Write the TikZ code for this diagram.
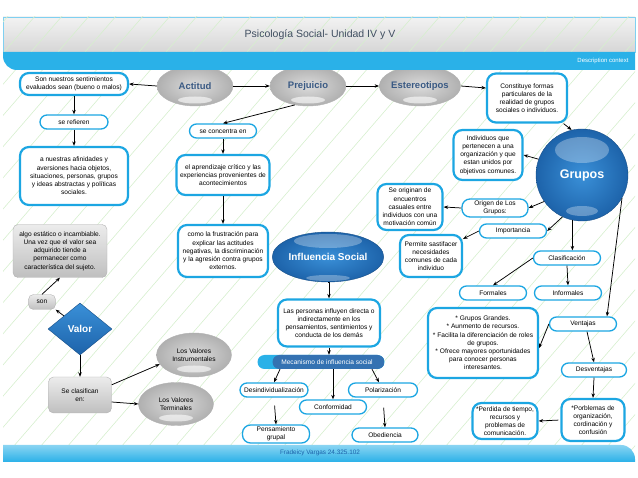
\documentclass[tikz,border=0pt]{standalone}
\usepackage{fontspec}
\setmainfont{Liberation Sans}
\usetikzlibrary{arrows.meta, positioning, calc, shapes.geometric}
\definecolor{mapcyan}{HTML}{1CA6E2}
\definecolor{mapblue}{HTML}{1D63AA}
\definecolor{mapbluehi}{HTML}{3A90D8}
\definecolor{bandblue}{HTML}{2AB1E8}
\definecolor{bgline}{HTML}{D6EFCE}
\definecolor{titlegray}{HTML}{3F4E60}
\definecolor{ovaltext}{HTML}{3A5A84}
\newcommand{\boxfont}{\fontsize{6.6}{8.2}\selectfont}

\begin{document}
\begin{tikzpicture}[x=1pt, y=-1pt, line join=round,
    cbox/.style={draw=mapcyan, line width=2.2pt, fill=white, rounded corners=9pt,
                 align=center, font=\boxfont, inner sep=2pt},
    pill/.style={draw=mapcyan, line width=1.3pt, fill=white, rounded corners=7pt,
                 align=center, font=\boxfont, minimum width=67pt, minimum height=14pt, inner sep=1pt},
    gbox/.style={draw=gray!60, top color=gray!15, bottom color=gray!50, rounded corners=5pt,
                 align=center, font=\boxfont, inner sep=1pt},
    goval/.style={ellipse, draw=gray!60, inner color=gray!28, outer color=gray!62,
                  align=center, inner sep=0pt},
    boval/.style={draw=mapblue!80!black, line width=0.4pt, inner color=mapbluehi, outer color=mapblue,
                  text=white, align=center, inner sep=0pt},
    arr/.style={-{Stealth[length=4.5pt, width=3.5pt]}, line width=0.75pt}]
  \useasboundingbox (0,0) rectangle (638,478);

  % header and hatching
  \shade[top color=gray!10, bottom color=gray!32] (3,17) rectangle (635,52);
  \draw[bandblue!60, line width=0.6pt] (3,17) rectangle (635,52);
  \begin{scope}
    \clip (3,17) rectangle (635,462);
    \foreach \i in {-15,...,24} { \draw[bgline, line width=0.6pt] (\i*27,462) -- ++(400,-462); }
  \end{scope}

  % Actitud / Prejuicio / Estereotipos
  \node[goval, minimum width=76pt, minimum height=40pt, text=ovaltext,
        font=\bfseries\fontsize{9.5}{11}\selectfont] (act) at (195,86) {Actitud};
  \node[goval, minimum width=76pt, minimum height=40pt, text=ovaltext,
        font=\bfseries\fontsize{9.5}{11}\selectfont] (prej) at (308,86) {Prejuicio};
  \node[goval, minimum width=80pt, minimum height=40pt, text=ovaltext,
        font=\bfseries\fontsize{9.5}{11}\selectfont] (este) at (420,86) {Estereotipos};

  \node[cbox, minimum width=108pt, minimum height=22pt] (sent) at (74,84)
      {Son nuestros sentimientos\\evaluados sean (bueno o malos)};
  \node[pill, minimum width=68pt] (refi) at (74,122) {se refieren};
  \node[cbox, minimum width=108pt, minimum height=58pt] (afin) at (74,176)
      {a nuestras afinidades y\\aversiones hacia objetos,\\situaciones, personas, grupos\\y ideas abstractas y políticas\\sociales.};

  \node[pill] (conc) at (223,131) {se concentra en};
  \node[cbox, minimum width=93pt, minimum height=40pt] (apre) at (223,175)
      {el aprendizaje crítico y las\\experiencias provenientes de\\acontecimientos};
  \node[cbox, minimum width=90pt, minimum height=52pt] (frus) at (223,251)
      {como la frustración para\\explicar las actitudes\\negativas, la discriminación\\y la agresión contra grupos\\externos.};

  % Influencia social
  \node[boval, ellipse, minimum width=107pt, minimum height=50pt,
        font=\bfseries\fontsize{10}{12}\selectfont] (infl) at (328,257) {Influencia Social};
  \node[cbox, minimum width=102pt, minimum height=47pt] (pers) at (329,323)
      {Las personas influyen directa o\\indirectamente en los\\pensamientos, sentimientos y\\conducta de los demás};
  \node[fill=bandblue, rounded corners=7pt, minimum width=127pt, minimum height=14pt, inner sep=1pt,
        text=white, font=\boxfont,
        path picture={\fill[mapblue!90, rounded corners=7pt]
          ([xshift=15pt]path picture bounding box.south west) rectangle (path picture bounding box.north east);}]
      (mec) at (321,362) {\hspace*{12pt}Mecanismo de influencia social};
  \node[pill, minimum width=68pt] (desi) at (274,390) {Desindividualización};
  \node[pill] (conf) at (333,407) {Conformidad};
  \node[pill, minimum width=69pt] (pola) at (383,390) {Polarización};
  \node[pill, minimum height=18pt, rounded corners=8pt] (pens) at (276,434) {Pensamiento\\grupal};
  \node[pill, minimum width=66pt] (obed) at (385,435) {Obediencia};

  % Grupos
  \node[cbox, minimum width=80pt, minimum height=49pt] (cons) at (527,98)
      {Constituye formas\\particulares de la\\realidad de grupos\\sociales o individuos.};
  \node[boval, circle, minimum size=92pt, font=\bfseries\fontsize{12.5}{14}\selectfont] (grup) at (582,175) {Grupos};
  \node[cbox, minimum width=69pt, minimum height=50pt] (indi) at (488,155)
      {Individuos que\\pertenecen a una\\organización y que\\estan unidos por\\objetivos comunes.};
  \node[pill, minimum width=66pt, minimum height=18pt, rounded corners=8pt] (orig) at (495,208) {Origen de Los\\Grupos:};
  \node[cbox, minimum width=65pt, minimum height=46pt] (orit) at (410,207)
      {Se originan de\\encuentros\\casuales entre\\individuos con una\\motivación común};
  \node[pill] (impo) at (513,231) {Importancia};
  \node[cbox, minimum width=62pt, minimum height=42pt] (perm) at (431,256)
      {Permite sastifacer\\necesidades\\comunes de cada\\individuo};
  \node[pill] (clas) at (567,258) {Clasificación};
  \node[pill] (form) at (493,293) {Formales};
  \node[pill] (info) at (568,293) {Informales};
  \node[pill] (vent) at (583,324) {Ventajas};
  \node[cbox, minimum width=110pt, minimum height=70pt] (list) at (483,343)
      {* Grupos Grandes.\\* Aunmento de recursos.\\* Facilita la diferenciación de roles\\de grupos.\\* Ofrece mayores oportunidades\\para conocer personas\\interesantes.};
  \node[pill, minimum width=65pt] (desv) at (594,370) {Desventajas};
  \node[cbox, minimum width=63pt, minimum height=42pt] (porb) at (593,420)
      {*Porblemas de\\organización,\\cordinación y\\confusión};
  \node[cbox, minimum width=65pt, minimum height=36pt] (perd) at (505,421)
      {*Perdida de tiempo,\\recursos y\\problemas de\\comunicación.};

  % Valor
  \node[diamond, minimum width=64pt, minimum height=52pt, inner sep=0pt,
        top color=mapbluehi, bottom color=mapblue, draw=mapblue!80!black, line width=0.4pt,
        text=white, font=\bfseries\fontsize{10}{12}\selectfont] (valo) at (80,329) {Valor};
  \node[gbox, minimum width=27pt, minimum height=15pt] (son) at (42,302) {son};
  \node[gbox, minimum width=94pt, minimum height=53pt] (algo) at (60,251)
      {algo estático o incambiable.\\Una vez que el valor sea\\adquirido tiende a\\permanecer como\\característica del sujeto.};
  \node[gbox, minimum width=63pt, minimum height=36pt] (clsf) at (80,395) {Se clasifican\\en:};
  \node[goval, minimum width=75pt, minimum height=44pt, font=\boxfont] (inst) at (194,355) {Los Valores\\Instrumentales};
  \node[goval, minimum width=75pt, minimum height=43pt, font=\boxfont] (term) at (176,404) {Los Valores\\Terminales};

  % gloss
  \foreach \n in {act, prej, este, inst, term} {
    \fill[white, opacity=0.6] ($(\n.center)+(0,14)$) ellipse (17pt and 3.5pt);
  }
  \fill[white, opacity=0.3] ($(grup.center)+(0,-25)$) ellipse (27pt and 13pt);
  \fill[white, opacity=0.3] ($(grup.center)+(0,36)$) ellipse (16pt and 5pt);
  \fill[white, opacity=0.3] ($(infl.center)+(0,-16)$) ellipse (34pt and 7pt);
  \fill[white, opacity=0.3] ($(infl.center)+(0,21)$) ellipse (22pt and 3pt);

  % connectors
  \draw[arr] (act.west) -- (sent.east);
  \draw[arr] (act.east) -- (prej.west);
  \draw[arr] (prej.east) -- (este.west);
  \draw[arr] (este.east) -- ([yshift=-2pt]este.east -| cons.west);
  \draw[arr] (sent.south) -- (refi.north);
  \draw[arr] (refi.south) -- (afin.north);
  \draw[arr] (prej.235) -- (conc.north);
  \draw[arr] (conc.south) -- (apre.north);
  \draw[arr] (apre.south) -- (frus.north);
  \draw[arr] (infl.south) -- (pers.south |- infl.south) -- (pers.north);
  \draw[arr] (pers.south) -- (pers.south |- mec.north);
  \draw[arr] ([xshift=-41pt]mec.south) -- (desi.north);
  \draw[arr] (mec.south -| conf.north) -- (conf.north);
  \draw[arr] ([xshift=51pt]mec.south) -- ([xshift=-4pt]pola.north);
  \draw[arr, shorten <=8pt] (desi.south) -- (pens.north);
  \draw[arr, shorten <=10pt] (pola.south) -- (obed.north);
  \draw[arr] (cons.-35) -- (grup.103);
  \draw[arr] (grup.160) -- (indi.east);
  \draw[arr] (grup.215) -- (orig.east);
  \draw[arr] (orig.west) -- (orit.east);
  \draw[arr] (grup.245) -- (impo.east);
  \draw[arr] (impo.west) -- ([yshift=-5pt]perm.north east);
  \draw[arr] (grup.258) -- (grup.258 |- clas.north);
  \draw[arr] (clas.west) -- (form.north);
  \draw[arr] (clas.south) -- (info.north);
  \draw[arr] (grup.330) -- ([xshift=24pt]vent.north);
  \draw[arr] (vent.west) -- ([yshift=-5pt]list.east);
  \draw[arr] ([xshift=4pt]vent.south) -- (desv.north);
  \draw[arr] (desv.south) -- (porb.north);
  \draw[arr, shorten <=2pt] (porb.west) -- (perd.east);
  \draw[arr] (valo.north west) -- (son.south east);
  \draw[arr] (son.north) -- (algo.south);
  \draw[arr] (valo.south) -- (clsf.north);
  \draw[arr] ([yshift=-8pt]clsf.north east) -- (inst.195);
  \draw[arr] ([yshift=-7pt]clsf.east) -- (term.west);

  % bands
  \fill[bandblue] (3,52) -- (635,52) -- (635,70) -- (17,70) to[out=180, in=270] (3,56) -- cycle;
  \shade[top color=bandblue!55, bottom color=bandblue] (3,462) -- (3,445) -- (621,445)
      to[out=0, in=90] (635,459) -- (635,462) -- cycle;
  \node[text=titlegray, font=\fontsize{10.5}{12}\selectfont] (title) at (320,35) {Psicología Social- Unidad IV y V};
  \node[text=white, font=\fontsize{6}{7}\selectfont, anchor=east] (desc) at (632,61) {Description context};
  \node[text=mapblue, font=\fontsize{6.4}{7}\selectfont] (foot) at (320,453) {Fradeicy Vargas 24.325.102};
\end{tikzpicture}
\end{document}
